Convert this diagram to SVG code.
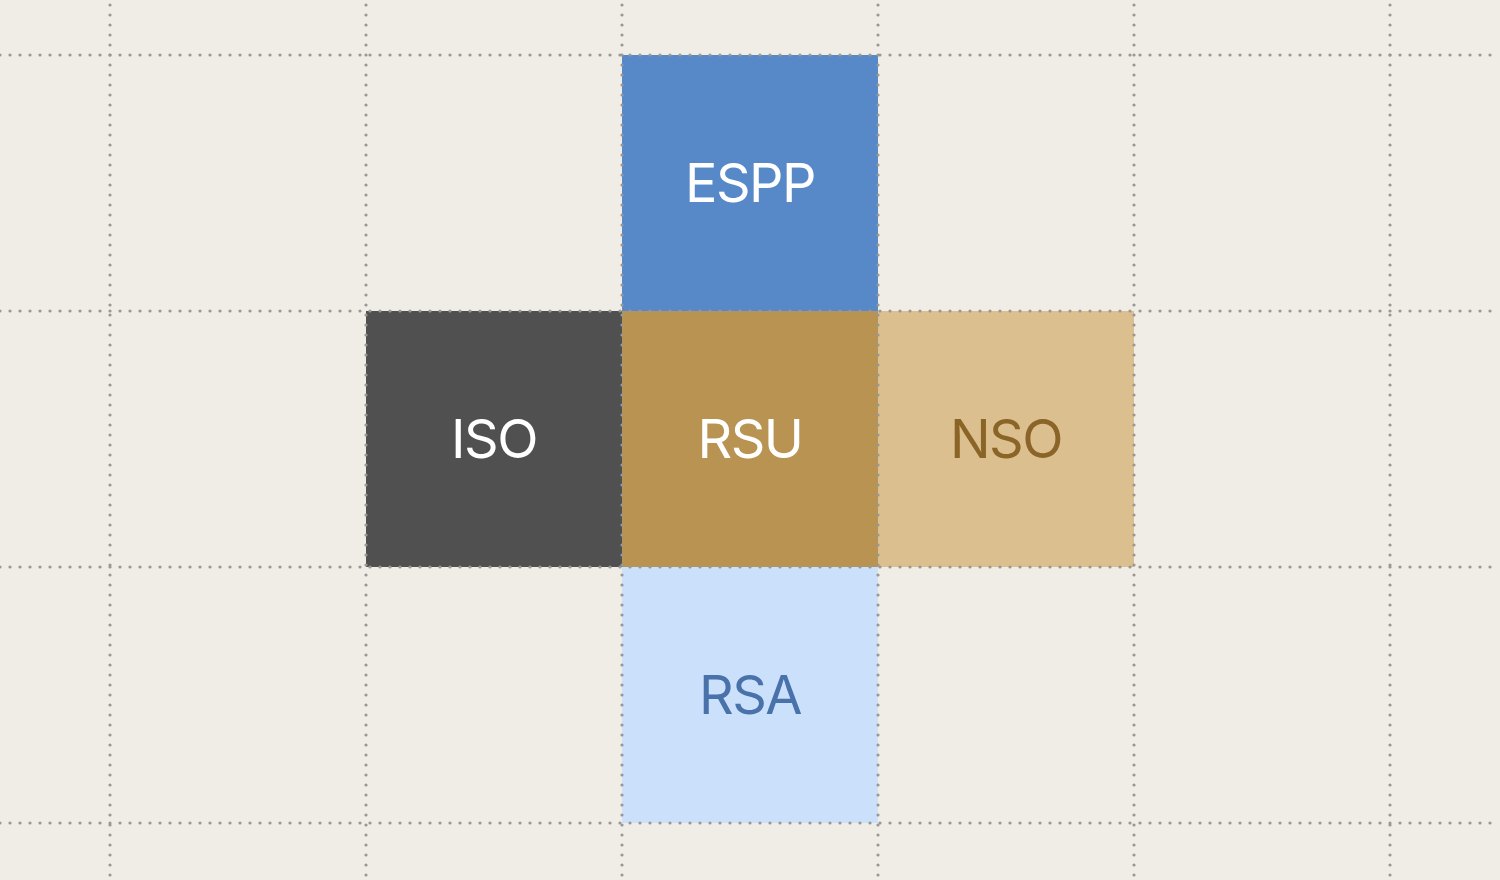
<svg xmlns="http://www.w3.org/2000/svg" width="1500" height="880" viewBox="0 0 1500 880">
<style>
.grid line{stroke:#9a9894;stroke-width:3.2;stroke-linecap:round;stroke-dasharray:0 10;fill:none}
.lbl{font-family:Inter,"Liberation Sans",sans-serif;font-size:54px;letter-spacing:-1.5px;text-anchor:middle}
</style>
<rect x="0" y="0" width="1500" height="880" fill="#f0ede6"/>
<g id="ESPP"><rect x="622" y="55" width="256" height="256" fill="#5788c8"/><text class="lbl" x="750" y="202" fill="#ffffff">ESPP</text></g>
<g id="ISO"><rect x="366" y="311" width="256" height="256" fill="#505050"/><text class="lbl" x="494" y="458" fill="#ffffff">ISO</text></g>
<g id="RSU"><rect x="622" y="311" width="256" height="256" fill="#b89352"/><text class="lbl" x="750" y="458" fill="#ffffff">RSU</text></g>
<g id="NSO"><rect x="878" y="311" width="256" height="256" fill="#dbbf8e"/><text class="lbl" x="1006" y="458" fill="#8b6428">NSO</text></g>
<g id="RSA"><rect x="622" y="567" width="256" height="256" fill="#cbe0fb"/><text class="lbl" x="750" y="714" fill="#4a72aa">RSA</text></g>
<g id="connectors" class="grid">
<line x1="0" y1="55" x2="1500" y2="55"/>
<line x1="0" y1="311" x2="1500" y2="311"/>
<line x1="0" y1="567" x2="1500" y2="567"/>
<line x1="0" y1="823" x2="1500" y2="823"/>
<line x1="110" y1="5" x2="110" y2="880"/>
<line x1="366" y1="5" x2="366" y2="880"/>
<line x1="622" y1="5" x2="622" y2="880"/>
<line x1="878" y1="5" x2="878" y2="880"/>
<line x1="1134" y1="5" x2="1134" y2="880"/>
<line x1="1390" y1="5" x2="1390" y2="880"/>
</g>
</svg>
